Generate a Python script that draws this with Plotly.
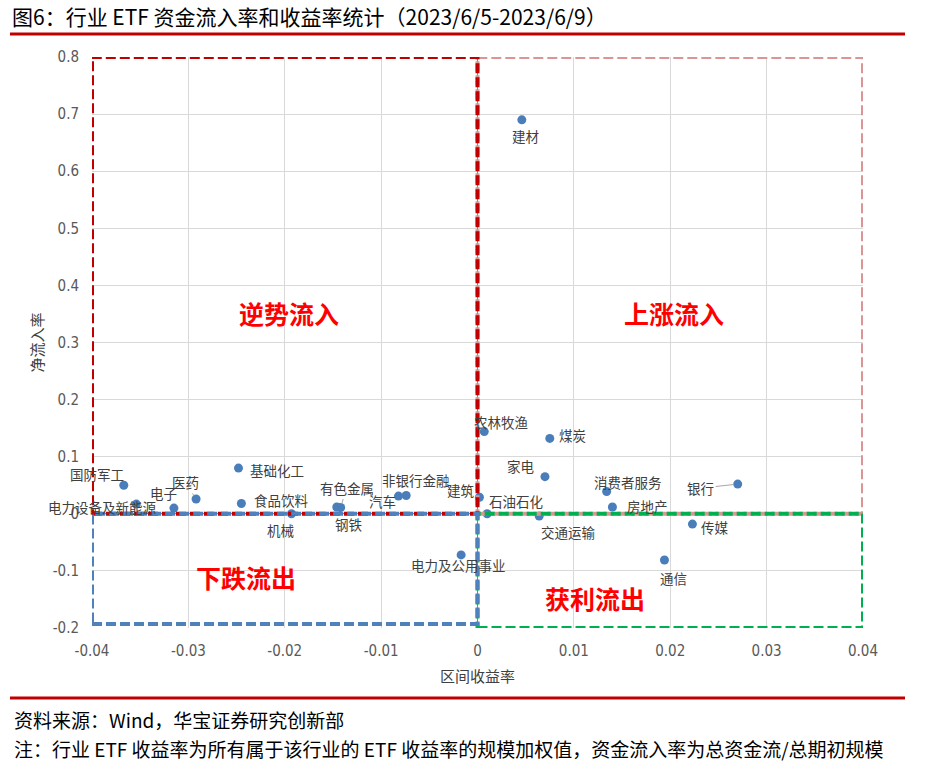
import plotly.graph_objects as go

# ---- data ----
industries = ["建材", "农林牧渔", "煤炭", "家电", "消费者服务", "银行", "房地产", "石油石化",
              "建筑", "交通运输", "传媒", "通信", "电力及公用事业", "非银行金融", "汽车",
              "有色金属", "钢铁", "机械", "食品饮料", "基础化工", "医药", "电子",
              "电力设备及新能源", "国防军工"]
returns = [0.0046, 0.0007, 0.0075, 0.0070, 0.0134, 0.0270, 0.0140, 0.0010,
           0.0002, 0.0064, 0.0223, 0.0194, -0.0017, -0.0074, -0.0082,
           -0.0142, -0.0146, -0.0193, -0.0245, -0.0248, -0.0292, -0.0315,
           -0.0354, -0.0367]
flows = [0.690, 0.144, 0.132, 0.065, 0.039, 0.052, 0.012, 0.000,
         0.029, -0.004, -0.018, -0.081, -0.072, 0.032, 0.031,
         0.011, 0.012, 0.000, 0.018, 0.080, 0.026, 0.010,
         0.017, 0.050]
# label offsets in pixels (dx right, dy down) relative to the point
label_dx = [4, 17, 23, -24, 21, -37, 35, 29, -18, 29, 23, 9, -3, 10, -16,
            6, 12, -11, 40, 39, -11, -10, -34, -27]
label_dy = [16, -10, -3, -11, -10, 4, -1, -13, -7, 16, 3, 18, 10, -16, 5,
            -20, 17, 16, -4, 2, -17, -15, 3, -11]
leader = {"银行", "医药", "有色金属"}

x_ticks = [-0.04, -0.03, -0.02, -0.01, 0, 0.01, 0.02, 0.03, 0.04]
y_ticks = [-0.2, -0.1, 0, 0.1, 0.2, 0.3, 0.4, 0.5, 0.6, 0.7, 0.8]
x_range = [-0.04, 0.04]
y_range = [-0.2, 0.8]
blue_box_bottom = -0.193

quadrants = ["逆势流入", "上涨流入", "下跌流出", "获利流出"]
quad_x = [-0.0196, 0.0204, -0.024, 0.0122]
quad_y = [0.352, 0.352, -0.110, -0.147]

CJK = "Noto Sans CJK SC"
TICKF = "Liberation Sans Narrow, DejaVu Sans Condensed, Arial, sans-serif"

fig = go.Figure()
fig.add_trace(go.Scatter(
    x=returns, y=flows, mode="markers", text=industries,
    marker=dict(color="#4A7EBB", size=9),
    hoverinfo="text", showlegend=False))

# data labels
for name, xv, yv, dx, dy in zip(industries, returns, flows, label_dx, label_dy):
    if name in leader:
        fig.add_annotation(x=xv, y=yv, text=name, showarrow=True, ax=dx, ay=dy,
                           arrowhead=0, arrowwidth=1, arrowcolor="#A6A6A6", standoff=4,
                           font=dict(family=CJK, size=13.5, color="#404040"))
    else:
        fig.add_annotation(x=xv, y=yv, text=name, showarrow=False, xshift=dx, yshift=-dy,
                           font=dict(family=CJK, size=13.5, color="#404040"))

# quadrant boxes
x0, x1 = x_range
y0, y1 = y_range
DASH = "10px,4px"
fig.add_shape(type="rect", x0=0, x1=x1, y0=0, y1=y1,
              line=dict(color="#DA9694", width=4, dash=DASH))
fig.add_shape(type="rect", x0=x0, x1=0, y0=0, y1=y1,
              line=dict(color="#C00000", width=4, dash=DASH))
fig.add_shape(type="rect", x0=0, x1=x1, y0=y0, y1=0,
              line=dict(color="#00B050", width=4, dash=DASH))
fig.add_shape(type="rect", x0=x0, x1=0, y0=blue_box_bottom, y1=0,
              line=dict(color="#4F81BD", width=4, dash=DASH))

# quadrant titles
for txt, qx, qy in zip(quadrants, quad_x, quad_y):
    fig.add_annotation(x=qx, y=qy, text="<b>" + txt + "</b>", showarrow=False,
                       font=dict(family=CJK, size=25, color="#FF0000"))

# axis titles
fig.add_annotation(xref="paper", yref="paper", x=0.5, y=-0.084, xanchor="center",
                   yanchor="middle", text="区间收益率",
                   showarrow=False, font=dict(family=CJK, size=15, color="#404040"))
fig.add_annotation(xref="paper", yref="paper", x=-0.0726, y=0.5, xanchor="center",
                   yanchor="middle", text="净流入率", textangle=-90, showarrow=False,
                   font=dict(family=CJK, size=15, color="#404040"))

# title, rules and footnotes
fig.add_annotation(xref="paper", yref="paper", x=-0.1064, y=1.0718, xanchor="left",
                   yanchor="middle",
                   text="图6：行业 ETF 资金流入率和收益率统计（2023/6/5-2023/6/9）",
                   showarrow=False, font=dict(family=CJK, size=21, color="#000000"))
fig.add_shape(type="line", xref="paper", yref="paper", x0=-0.1064, x1=1.0545,
              y0=1.0403, y1=1.0403, line=dict(color="#C00000", width=3))
fig.add_shape(type="line", xref="paper", yref="paper", x0=-0.1064, x1=1.0545,
              y0=-0.1226, y1=-0.1226, line=dict(color="#C00000", width=3))
fig.add_annotation(xref="paper", yref="paper", x=-0.1038, y=-0.1594, xanchor="left",
                   yanchor="middle", text="资料来源：Wind，华宝证券研究创新部",
                   showarrow=False, font=dict(family=CJK, size=19, color="#000000"))
fig.add_annotation(xref="paper", yref="paper", x=-0.1038, y=-0.2102, xanchor="left",
                   yanchor="middle",
                   text="注：行业 ETF 收益率为所有属于该行业的 ETF 收益率的规模加权值，资金流入率为总资金流/总期初规模",
                   showarrow=False, font=dict(family=CJK, size=19, color="#000000"))

fig.update_xaxes(range=x_range, tickvals=x_ticks, ticktext=[f"{v:g}" for v in x_ticks],
                 showgrid=True, gridcolor="#D9D9D9", gridwidth=1,
                 zeroline=True, zerolinecolor="#868686", zerolinewidth=1,
                 showline=False, ticks="", ticklabelstandoff=12,
                 tickfont=dict(family=TICKF, size=15, color="#595959"))
fig.update_yaxes(range=y_range, tickvals=y_ticks, ticktext=[f"{v:g}" for v in y_ticks],
                 showgrid=True, gridcolor="#D9D9D9", gridwidth=1,
                 zeroline=True, zerolinecolor="#868686", zerolinewidth=1,
                 showline=False, ticks="", ticklabelstandoff=12,
                 tickfont=dict(family=TICKF, size=15, color="#595959"))

fig.update_layout(width=931, height=769, autosize=False,
                  margin=dict(l=92, r=68, t=57, b=141),
                  plot_bgcolor="white", paper_bgcolor="white")

fig.write_html("out.html")
